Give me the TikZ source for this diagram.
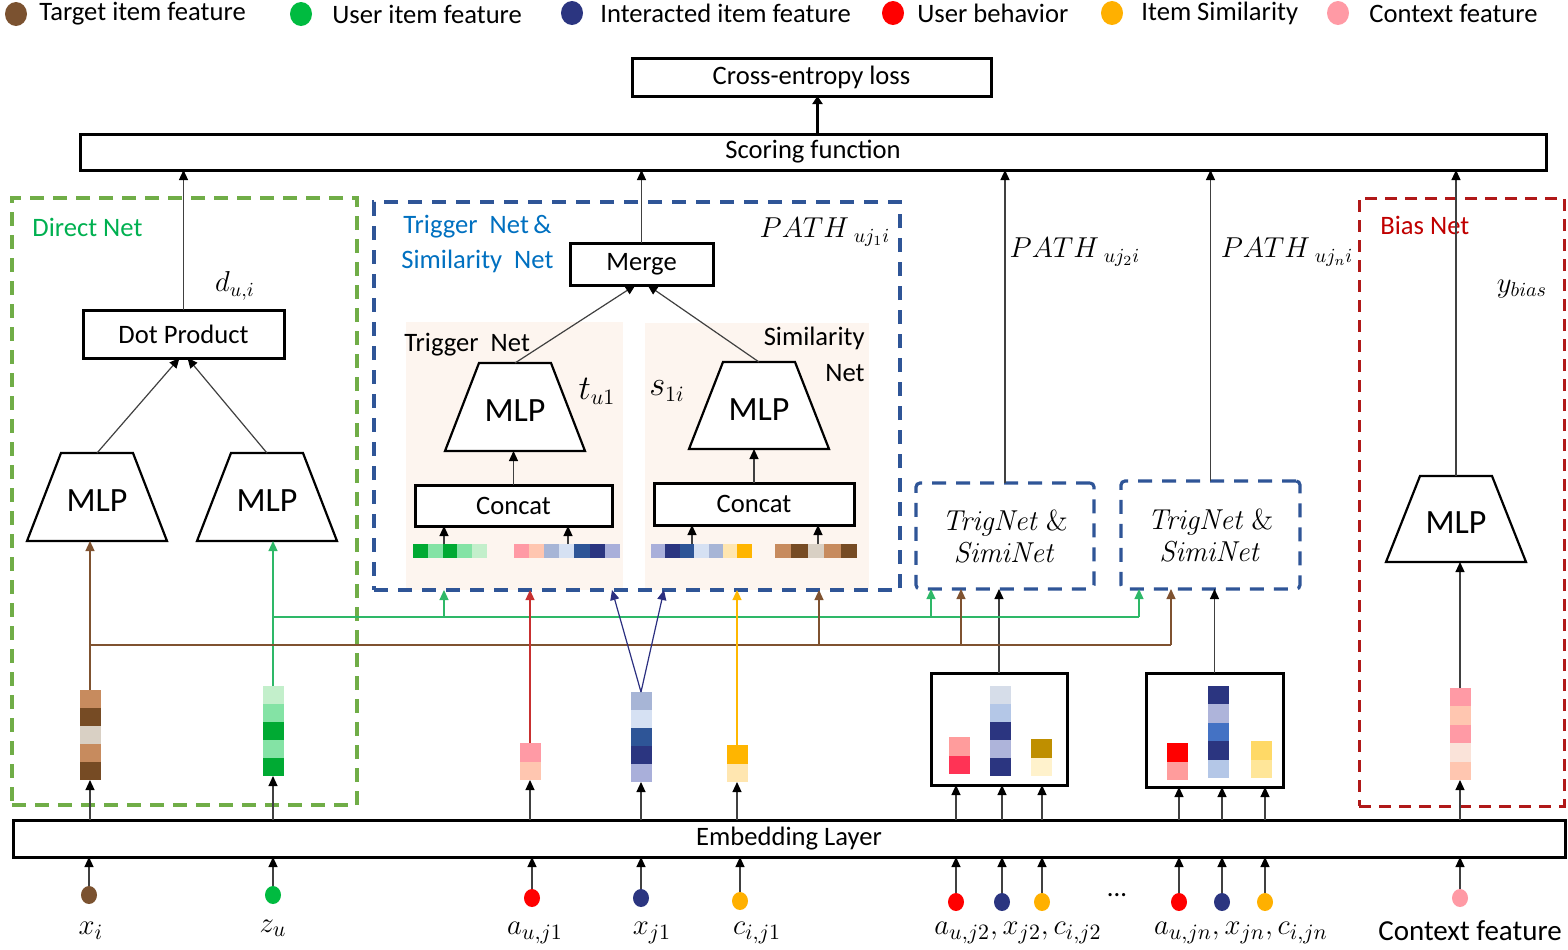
\documentclass[tikz,border=0pt]{standalone}
\usepackage[no-math]{fontspec}
\setmainfont{Carlito}
\usetikzlibrary{arrows.meta,shapes.geometric,calc}
% colours
\definecolor{brT}{HTML}{C78B5E}
\definecolor{brD}{HTML}{764B24}
\definecolor{brL}{HTML}{D9D0C4}
\definecolor{gL}{HTML}{C3EFCB}
\definecolor{gM}{HTML}{84E3A5}
\definecolor{gD}{HTML}{00AA33}
\definecolor{pk}{HTML}{FF9AA5}
\definecolor{pc}{HTML}{FFC6B0}
\definecolor{pL}{HTML}{FAE3D9}
\definecolor{bG}{HTML}{A7B5D6}
\definecolor{bL}{HTML}{D6E1F3}
\definecolor{bM}{HTML}{2E5597}
\definecolor{bN}{HTML}{2B3580}
\definecolor{bV}{HTML}{A9AFDA}
\definecolor{bL2}{HTML}{D6DDE9}
\definecolor{bS}{HTML}{B4C7E7}
\definecolor{bV2}{HTML}{AEB4DA}
\definecolor{bB}{HTML}{4472C4}
\definecolor{oD}{HTML}{FFB500}
\definecolor{oL}{HTML}{FFE6B0}
\definecolor{rS}{HTML}{FF9C9C}
\definecolor{rP}{HTML}{FF3355}
\definecolor{rR}{HTML}{FF0000}
\definecolor{yG}{HTML}{BF8F00}
\definecolor{yL}{HTML}{FFF2CC}
\definecolor{yM}{HTML}{FFD966}
\definecolor{yP}{HTML}{FFE699}
\definecolor{panelC}{HTML}{FDF5EF}
\definecolor{dashG}{HTML}{70AD47}
\definecolor{dashB}{HTML}{2F5597}
\definecolor{dashR}{HTML}{B01818}
\definecolor{txtG}{HTML}{00B050}
\definecolor{txtB}{HTML}{0070C0}
\definecolor{txtR}{HTML}{C00000}
\definecolor{dotBr}{HTML}{7B5230}
\definecolor{dotG}{HTML}{00BB40}
\definecolor{dotN}{HTML}{2B3580}
\definecolor{dotR}{HTML}{FF0000}
\definecolor{dotO}{HTML}{FFB000}
\definecolor{dotP}{HTML}{FF9AA5}
\definecolor{lnBr}{HTML}{7F5230}
\definecolor{lnG}{HTML}{2EB868}
\definecolor{lnR}{HTML}{C83030}
\definecolor{lnN}{HTML}{2B2F80}
\definecolor{lnO}{HTML}{FFB800}

\newcommand\mkvstack[5]{% name, xleft, ytop, cellh, colours
  \foreach \c [count=\k from 0] in {#5}{%
    \fill[\c] (#2,{#3+\k*#4}) rectangle ++(21,#4);
    \xdef\mknk{\k}%
  }%
  \coordinate (#1-top) at ({#2+10.5},#3);
  \coordinate (#1-bot) at ({#2+10.5},{#3+(\mknk+1)*#4});
}
\newcommand\mkhstrip[4]{% xleft, ytop, cellw, colours
  \foreach \c [count=\k from 0] in {#4}{%
    \fill[\c] ({#1+\k*#3},#2) rectangle ++(#3,14);
  }%
}
\newcommand\mkmlp[4]{% name, cx, ytop, ybot
  \draw[mlpline] ({#2-36},#3) -- ({#2+36},#3) -- ({#2+70},#4) -- ({#2-70},#4) -- cycle;
  \node[mlptext] (#1) at (#2,{(#3+#4)/2+4}) {MLP};
  \coordinate (#1-top) at (#2,#3);
  \coordinate (#1-bot) at (#2,#4);
}

\begin{document}
\begin{tikzpicture}[x=0.5pt,y=-0.5pt,
  font=\fontsize{13.3}{16}\selectfont,
  box/.style={draw=black, line width=1.5pt, inner sep=0pt, outer sep=0pt, fill=white},
  mlpline/.style={draw=black, line width=1.1pt, line join=miter, fill=white},
  mlptext/.style={font=\fontsize{17}{20}\selectfont, inner sep=0pt},
  arr/.style={draw=black!75, line width=0.6pt, -{Triangle[length=5pt,width=4.5pt,color=black]}},
  carr/.style={line width=0.6pt, -{Triangle[length=5pt,width=4.5pt]}},
  thickarr/.style={draw=black, line width=1.5pt, -{Triangle[length=4pt,width=5pt]}},
  dashGbox/.style={draw=dashG, line width=1.6pt, dash pattern=on 7pt off 4.5pt, inner sep=0pt, outer sep=0pt},
  dashBbox/.style={draw=dashB, line width=1.6pt, dash pattern=on 7pt off 5pt, inner sep=0pt, outer sep=0pt},
  dashRbox/.style={draw=dashR, line width=1.5pt, dash pattern=on 6pt off 4pt, inner sep=0pt, outer sep=0pt},
  ldot/.style={ellipse, minimum width=11pt, minimum height=12pt, inner sep=0pt},
  sdot/.style={ellipse, minimum width=8pt, minimum height=9pt, inner sep=0pt},
  ltext/.style={anchor=west, inner sep=0pt},
  mlab/.style={font=\fontsize{15}{18}\selectfont, inner sep=0pt},
  plab/.style={font=\fontsize{14}{16}\selectfont, inner sep=0pt}
]
\useasboundingbox (0,0) rectangle (1568,949);

% ---------- legend ----------
\node[ldot, fill=dotBr] (lg1) at (16,14) {};
\node[ltext] (lt1) at (39,14) {Target item feature};
\node[ldot, fill=dotG] (lg2) at (301,14) {};
\node[ltext] (lt2) at (332,14) {User item feature};
\node[ldot, fill=dotN] (lg3) at (572,13) {};
\node[ltext] (lt3) at (600,13) {Interacted item feature};
\node[ldot, fill=dotR] (lg4) at (893,13) {};
\node[ltext] (lt4) at (917,13) {User behavior};
\node[ldot, fill=dotO] (lg5) at (1112,13) {};
\node[ltext] (lt5) at (1141,13) {Item Similarity};
\node[ldot, fill=dotP] (lg6) at (1338,13) {};
\node[ltext] (lt6) at (1369,13) {Context feature};

% ---------- top boxes ----------
\node[box, minimum width=179.5pt, minimum height=19pt] (ce) at (811.5,77) {\raisebox{-1pt}{Cross-entropy loss}};
\node[box, minimum width=733pt, minimum height=18pt] (score) at (813,152) {Scoring function};
\draw[thickarr] ([xshift=3pt]ce.south |- score.north) -- ([xshift=3pt]ce.south);

% ---------- panels (background) ----------
\fill[panelC] (406,322) rectangle (623,590);
\fill[panelC] (645,323) rectangle (869,590);

% ---------- dashed group boxes ----------
\node[dashGbox, minimum width=172.5pt, minimum height=303.5pt] (direct) at (184.5,501.5) {};
\node[dashBbox, minimum width=263pt, minimum height=194pt] (tsbox) at (637,396) {};
\node[dashRbox, minimum width=102.5pt, minimum height=304pt] (bias) at (1461.5,502) {};

% ---------- Direct Net ----------
\node[ltext, text=txtG] (dnl) at (32,227) {Direct Net};
\node[box, minimum width=100.5pt, minimum height=24pt] (dotp) at (183.5,334) {Dot Product};
\node[plab] (dui) at (235,286) {$d_{u,i}$};
\mkmlp{mlpL}{97}{453}{541}
\mkmlp{mlpR}{267}{453}{541}
\draw[arr] (mlpL-top) -- ([xshift=-2pt]dotp.south);
\draw[arr] (mlpR-top) -- ([xshift=2pt]dotp.south);
\draw[arr] (dotp.north) -- (dotp.north |- score.south);

% ---------- Trigger / Similarity ----------
\node[ltext, text=txtB] (tsl1) at (403,227) {Trigger\ \ Net\,\&};
\node[ltext, text=txtB] (tsl2) at (401,261) {Similarity\ \ Net};
\node[plab] (p1) at (825,232) {$PATH\,{}_{uj_1 i}$};
\node[box, minimum width=71.5pt, minimum height=21pt] (merge) at (641.5,264) {Merge};
\draw[arr] (merge.north) -- (merge.north |- score.south);

\node[ltext] (tnl) at (404,345) {Trigger\ \ Net};
\node[anchor=east, inner sep=0pt] (snl1) at (865,338) {Similarity};
\node[anchor=east, inner sep=0pt] (snl2) at (865,373) {Net};
\node[font=\fontsize{16}{18}\selectfont, inner sep=0pt] (tu1) at (597,391) {$t_{u1}$};
\node[font=\fontsize{16}{18}\selectfont, inner sep=0pt] (s1i) at (667,391) {$s_{1i}$};

\mkmlp{mlpT}{515}{363}{451}
\mkmlp{mlpS}{759}{362}{449}
\draw[arr] (mlpT-top) -- ([xshift=-3pt]merge.south);
\draw[arr] (mlpS-top) -- ([xshift=3pt]merge.south);

\node[box, minimum width=98.5pt, minimum height=20.5pt] (ctT) at (513.5,505.5) {Concat};
\node[box, minimum width=100pt, minimum height=21pt] (ctS) at (754,504) {Concat};
\draw[arr] (ctT.north) -- (ctT.north |- mlpT-bot);
\draw[arr] (ctS.north) -- (ctS.north |- mlpS-bot);

\mkhstrip{413}{544}{14.8}{gD,gM,gD,gM,gL}
\mkhstrip{514}{544}{15.1}{pk,pc,bG,bL,bM,bN,bV}
\mkhstrip{651}{544}{14.4}{bV,bN,bM,bL,bG,oL,oD}
\mkhstrip{775}{544}{16.4}{brT,brD,brL,brT,brD}
\coordinate (stA) at (444,544);
\coordinate (stB) at (568,544);
\coordinate (stC) at (692,544);
\coordinate (stD) at (818,544);
\draw[arr] (stA) -- (stA |- ctT.south);
\draw[arr] (stB) -- (stB |- ctT.south);
\draw[arr] (stC) -- (stC |- ctS.south);
\draw[arr] (stD) -- (stD |- ctS.south);

% ---------- other paths ----------
\node[dashBbox, rounded corners=2pt, minimum width=89pt, minimum height=53pt, align=center,
      font=\fontsize{14}{15}\selectfont] (tnA) at (1005,536) {$\mathit{TrigNet}\ \&$\\[1pt]$\mathit{SimiNet}$};
\node[dashBbox, rounded corners=2pt, minimum width=89.5pt, minimum height=54pt, align=center,
      font=\fontsize{14}{15}\selectfont] (tnB) at (1210.5,535) {$\mathit{TrigNet}\ \&$\\[1pt]$\mathit{SimiNet}$};
\draw[arr] (tnA.north) -- (tnA.north |- score.south);
\draw[arr] (tnB.north) -- (tnB.north |- score.south);
\node[plab] (p2) at (1075,252) {$PATH\,{}_{uj_2 i}$};
\node[plab] (p3) at (1287,252) {$PATH\,{}_{uj_n i}$};

\node[box, minimum width=68pt, minimum height=56pt] (eb1) at (999,729) {};
\node[box, minimum width=68.5pt, minimum height=57pt] (eb2) at (1214.5,730) {};
\draw[arr] (eb1.north) -- (eb1.north |- tnA.south);
\draw[arr] (eb2.north) -- (eb2.north |- tnB.south);
\mkvstack{b1a}{949}{737}{18.5}{rS,rP}
\mkvstack{b1b}{990}{686}{18}{bL2,bS,bN,bV2,bN}
\mkvstack{b1c}{1031}{739}{18.5}{yG,yL}
\mkvstack{b2a}{1167}{743}{18.5}{rR,rS}
\mkvstack{b2b}{1208}{686}{18.4}{bN,bV2,bB,bN,bS}
\mkvstack{b2c}{1251}{741}{18.5}{yM,yP}

% ---------- Bias Net ----------
\node[ltext, text=txtR] (bnl) at (1380,225) {Bias Net};
\node[plab] (yb) at (1522,289) {$y_{bias}$};
\mkmlp{mlpB}{1456}{476}{562}
\draw[arr] (mlpB-top) -- (mlpB-top |- score.south);
\mkvstack{sctx}{1449.5}{688}{18.4}{pk,pc,pk,pL,pc}
\draw[arr] (sctx-top) -- (sctx-top |- mlpB-bot);

% ---------- embedding vectors ----------
\mkvstack{sxi}{79.5}{690}{18}{brT,brD,brL,brT,brD}
\mkvstack{szu}{262.5}{686}{18}{gL,gM,gD,gM,gD}
\mkvstack{sa}{519.5}{743}{18.5}{pk,pc}
\mkvstack{sx}{630.5}{692}{18}{bG,bL,bM,bN,bV}
\mkvstack{sc}{726.5}{745}{18.5}{oD,oL}

% buses
\coordinate (busB0) at (90,645);
\coordinate (busB1) at (1171,645);
\coordinate (busG0) at (273,617);
\coordinate (busG1) at (1139,617);
\coordinate (bB1) at (819,645);
\coordinate (bB2) at (961,645);
\coordinate (bG1) at (444,617);
\coordinate (bG2) at (931,617);
\coordinate (nvA) at (612,590);
\coordinate (nvB) at (664,590);

\draw[carr, draw=lnBr] (sxi-top) -- (sxi-top |- mlpL-bot);
\draw[carr, draw=lnG] (szu-top) -- (szu-top |- mlpR-bot);
\draw[draw=lnBr, line width=0.6pt] (busB0) -- (busB1);
\draw[draw=lnG, line width=0.6pt] (busG0) -- (busG1);
\draw[carr, draw=lnBr] (bB1) -- (bB1 |- tsbox.south);
\draw[carr, draw=lnBr] (bB2) -- (bB2 |- tnA.south);
\draw[carr, draw=lnBr] (busB1) -- (busB1 |- tnB.south);
\draw[carr, draw=lnG] (bG1) -- (bG1 |- tsbox.south);
\draw[carr, draw=lnG] (bG2) -- (bG2 |- tnA.south);
\draw[carr, draw=lnG] (busG1) -- (busG1 |- tnB.south);
\draw[carr, draw=lnR] (sa-top) -- (sa-top |- tsbox.south);
\draw[carr, draw=lnN] (sx-top) -- (nvA);
\draw[carr, draw=lnN] (sx-top) -- (nvB);
\draw[carr, draw=lnO] (sc-top) -- (sc-top |- tsbox.south);

% ---------- embedding layer ----------
\node[box, minimum width=776pt, minimum height=18.5pt] (emb) at (789,838.5) {\raisebox{-1pt}{Embedding Layer}};
\draw[arr] (sxi-bot |- emb.north) -- (sxi-bot);
\draw[arr] (szu-bot |- emb.north) -- (szu-bot);
\draw[arr] (sa-bot |- emb.north) -- (sa-bot);
\draw[arr] (sx-bot |- emb.north) -- (sx-bot);
\draw[arr] (sc-bot |- emb.north) -- (sc-bot);
\draw[arr] (sctx-bot |- emb.north) -- (sctx-bot);

% ---------- input dots ----------
\node[sdot, fill=dotBr] (d1) at (89,895) {};
\node[sdot, fill=dotG] (d2) at (273,895) {};
\node[sdot, fill=dotR] (d3) at (532,898) {};
\node[sdot, fill=dotN] (d4) at (641,898) {};
\node[sdot, fill=dotO] (d5) at (740,901) {};
\node[sdot, fill=dotR] (d6) at (956,902) {};
\node[sdot, fill=dotN] (d7) at (1002,902) {};
\node[sdot, fill=dotO] (d8) at (1042,902) {};
\node[sdot, fill=dotR] (d9) at (1179,902) {};
\node[sdot, fill=dotN] (d10) at (1222,902) {};
\node[sdot, fill=dotO] (d11) at (1265,902) {};
\node[sdot, fill=dotP] (d12) at (1460,898) {};
\foreach \d in {d1,d2,d3,d4,d5,d6,d7,d8,d9,d10,d11,d12}{
  \draw[arr] (\d.north) -- (\d.north |- emb.south);
}
\draw[arr] (d6.north |- emb.north) -- (d6.north |- eb1.south);
\draw[arr] (d7.north |- emb.north) -- (d7.north |- eb1.south);
\draw[arr] (d8.north |- emb.north) -- (d8.north |- eb1.south);
\draw[arr] (d9.north |- emb.north) -- (d9.north |- eb2.south);
\draw[arr] (d10.north |- emb.north) -- (d10.north |- eb2.south);
\draw[arr] (d11.north |- emb.north) -- (d11.north |- eb2.south);
\node[inner sep=0pt] (ell) at (1117,895) {...};

% ---------- labels ----------
\node[mlab] (l1) at (91,931) {$x_i$};
\node[mlab] (l2) at (273,928) {$z_u$};
\node[mlab] (l3) at (535,933) {$a_{u,j1}$};
\node[mlab] (l4) at (652,933) {$x_{j1}$};
\node[mlab] (l5) at (757,933) {$c_{i,j1}$};
\node[mlab] (l6) at (1018,933) {$a_{u,j2}, x_{j2}, c_{i,j2}$};
\node[mlab] (l7) at (1241,933) {$a_{u,jn}, x_{jn}, c_{i,jn}$};
\node[font=\fontsize{14.5}{17}\selectfont, inner sep=0pt] (l8) at (1470,931) {Context feature};
\end{tikzpicture}
\end{document}
